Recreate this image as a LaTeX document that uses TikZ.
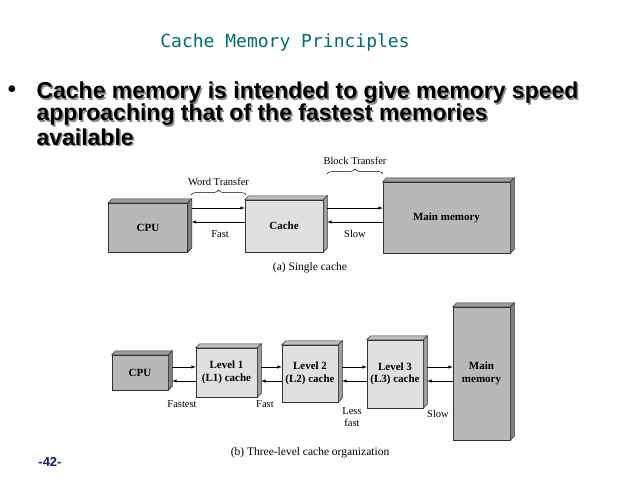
\documentclass[tikz,border=0pt]{standalone}
\usepackage{fontspec}
\setmainfont{Liberation Serif}
\newfontfamily\arialf{Liberation Sans}
\newfontfamily\monof{DejaVu Sans Mono}
\usetikzlibrary{decorations.pathreplacing}
\definecolor{teal2}{RGB}{0,110,110}
\definecolor{navy2}{RGB}{20,30,110}
\colorlet{gdark}{black!28}
\colorlet{glight}{black!12}
\colorlet{gdarktop}{black!38}
\colorlet{gdarkside}{black!50}
\colorlet{glighttop}{black!25}
\colorlet{glightside}{black!38}
\tikzset{
 box/.style={draw=black!80,line width=0.5pt,inner sep=0,font=\fontsize{11}{12.5}\selectfont\bfseries,align=center},
 dark/.style={box,fill=gdark},
 light/.style={box,fill=glight},
 arr/.style={-latex,line width=0.5pt},
 lbl/.style={font=\fontsize{10.5}{12}\selectfont,align=center},
 brace/.style={decorate,decoration={brace,amplitude=5pt},line width=0.5pt},
 bul/.style={font=\arialf\bfseries\fontsize{23}{26}\selectfont,anchor=west}
}
\newcommand\depth[2]{% name, fill prefix
 \filldraw[fill=#2top,draw=black!80,line width=0.5pt] (#1.north west)--++(4,-4)--([shift={(4,-4)}]#1.north east)--(#1.north east)--cycle;
 \filldraw[fill=#2side,draw=black!80,line width=0.5pt] (#1.north east)--++(4,-4)--([shift={(4,-4)}]#1.south east)--(#1.south east)--cycle;}
\begin{document}
\begin{tikzpicture}[x=1pt,y=-1pt]
\useasboundingbox (0,0) rectangle (638,479);
\fill[white] (0,0) rectangle (638,479);
\node[text=teal2,font=\monof\fontsize{18}{20}\selectfont] (title) at (285,42) {Cache Memory Principles};
\node[font=\arialf\fontsize{16}{16}\selectfont] (dot) at (12,90) {$\bullet$};
\foreach \t/\y [count=\i] in {Cache memory is intended to give memory speed/93,approaching that of the fastest memories/115,available/137}{
 \node[bul,text=black!45] at (34.5,\y+1.5) {\t};
 \node[bul] (b\i) at (33,\y) {\t};}
\node[text=navy2,font=\arialf\bfseries\fontsize{13}{14}\selectfont] (num) at (50,462) {-42-};
% (a)
\node[dark,minimum width=79,minimum height=49] (cpu) at (148,227.5) {CPU};
\node[light,minimum width=78,minimum height=52] (cache) at (284,226) {Cache};
\node[dark,minimum width=127,minimum height=71] (mm) at (446.5,217.5) {Main memory};
\depth{cpu}{gdark}\depth{cache}{glight}\depth{mm}{gdark}
\draw[arr] ([xshift=4]cpu.east|-0,208)--(cache.west|-0,208);
\draw[arr] (cache.west|-0,222)--([xshift=4]cpu.east|-0,222);
\draw[arr] ([xshift=4]cache.east|-0,208)--(mm.west|-0,208);
\draw[arr] (mm.west|-0,222)--([xshift=4]cache.east|-0,222);
\node[lbl] (fa) at (220,234) {Fast};
\node[lbl] (sa) at (355,234) {Slow};
\coordinate (w1) at (191,195); \coordinate (w2) at (246,195);
\draw[brace] (w1)--(w2) node[midway,above=6pt,lbl] {Word Transfer};
\coordinate (k1) at (327,174); \coordinate (k2) at (383,174);
\draw[brace] (k1)--(k2) node[midway,above=6pt,lbl] {Block Transfer};
\node[lbl,font=\fontsize{11.5}{13}\selectfont] (capa) at (310,268) {(a) Single cache};
% (b)
\node[dark,minimum width=56,minimum height=35] (cpu2) at (140,372.5) {CPU};
\node[light,minimum width=61,minimum height=49] (l1) at (226.5,372.5) {Level 1\\(L1) cache};
\node[light,minimum width=56,minimum height=57] (l2) at (310,373.5) {Level 2\\(L2) cache};
\node[light,minimum width=56,minimum height=68] (l3) at (395,374) {Level 3\\(L3) cache};
\node[dark,minimum width=57,minimum height=133] (mm2) at (481.5,373.5) {Main\\memory};
\depth{cpu2}{gdark}\depth{l1}{glight}\depth{l2}{glight}\depth{l3}{glight}\depth{mm2}{gdark}
\foreach \a/\b in {cpu2/l1,l1/l2,l2/l3,l3/mm2}{
 \draw[arr] ([xshift=4]\a.east|-0,367)--(\b.west|-0,367);
 \draw[arr] (\b.west|-0,381)--([xshift=4]\a.east|-0,381);}
\node[lbl] (f1) at (182,404) {Fastest};
\node[lbl] (f2) at (265,404) {Fast};
\node[lbl] (f3) at (352,417) {Less\\fast};
\node[lbl] (f4) at (438,414) {Slow};
\node[lbl,font=\fontsize{11.5}{13}\selectfont] (capb) at (310,453) {(b) Three-level cache organization};
\end{tikzpicture}
\end{document}
